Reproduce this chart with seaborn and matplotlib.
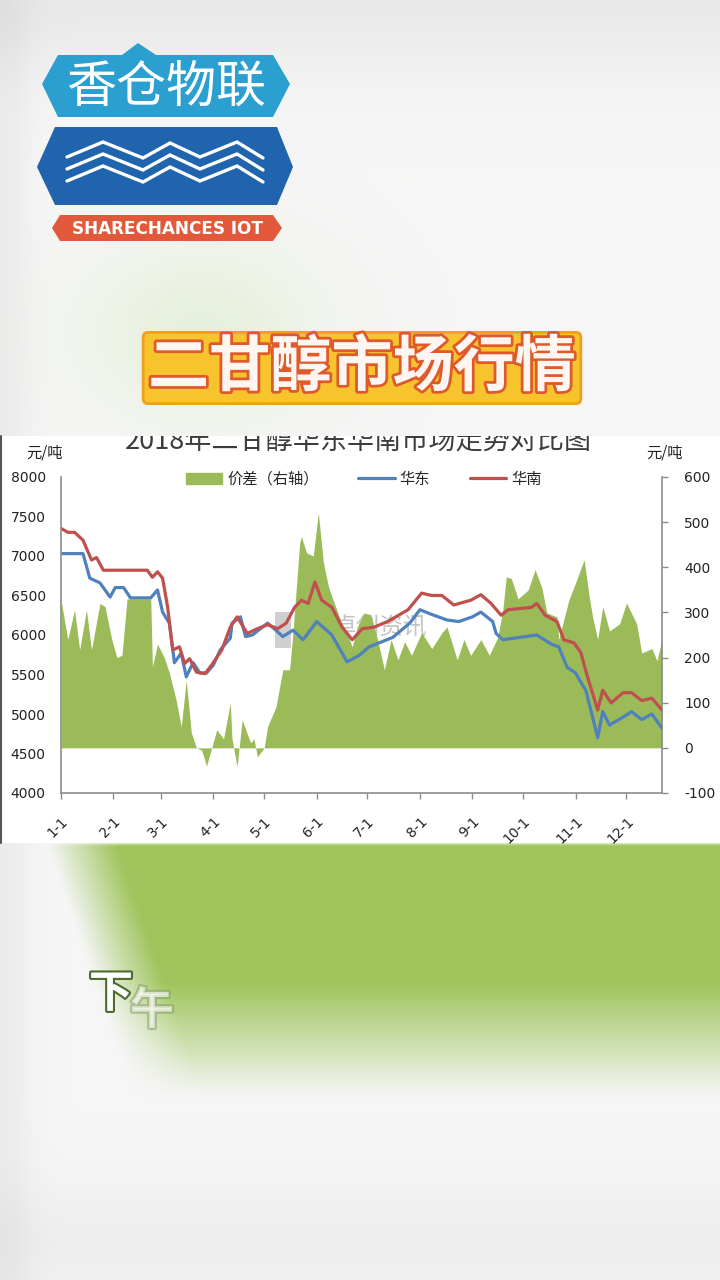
"""二甘醇市场行情：2018年华东华南走势对比图（视频截图复刻）。"""
import matplotlib

matplotlib.use("Agg")
import matplotlib.patheffects as pe
import matplotlib.pyplot as plt
import matplotlib.transforms as mtransforms
import numpy as np
import pandas as pd
import seaborn as sns
from matplotlib.lines import Line2D
from matplotlib.patches import Patch, Polygon, Rectangle

# ---- 数据 ----
east_dates = ["01-01", "01-14", "01-18", "01-24", "01-30", "02-02", "02-07", "02-11",
              "02-23", "02-27", "03-02", "03-06", "03-09", "03-13", "03-16", "03-20",
              "03-24", "03-28", "04-01", "04-05", "04-11", "04-12", "04-17", "04-20",
              "04-24", "05-03", "05-08", "05-12", "05-18", "05-24", "06-01", "06-10",
              "06-19", "06-26", "07-02", "07-16", "07-26", "08-01", "08-08", "08-17",
              "08-24", "09-01", "09-06", "09-13", "09-15", "09-19", "09-29", "10-09",
              "10-12", "10-18", "10-22", "10-27", "11-01", "11-03", "11-07", "11-11",
              "11-14", "11-17", "11-21", "11-29", "12-04", "12-10", "12-16", "12-22"]
east_price = [7030, 7030, 6720, 6660, 6480, 6600, 6600, 6470,
              6470, 6570, 6290, 6150, 5650, 5770, 5470, 5650,
              5520, 5520, 5620, 5810, 5960, 6150, 6230, 5980,
              6000, 6150, 6060, 5980, 6060, 5940, 6170, 6000,
              5660, 5740, 5850, 5970, 6150, 6320, 6260, 6190,
              6170, 6230, 6290, 6170, 6020, 5940, 5970, 6000,
              5960, 5880, 5850, 5590, 5520, 5440, 5300, 4960,
              4700, 5030, 4860, 4960, 5030, 4930, 5000, 4820]

south_dates = ["01-01", "01-05", "01-09", "01-14", "01-19", "01-22", "01-26", "02-21",
               "02-24", "02-27", "03-02", "03-05", "03-08", "03-12", "03-15", "03-18",
               "03-22", "03-27", "03-31", "04-06", "04-11", "04-15", "04-21", "04-27",
               "05-03", "05-09", "05-14", "05-19", "05-23", "05-27", "05-31", "06-04",
               "06-10", "06-16", "06-22", "06-28", "07-05", "07-13", "07-25", "08-02",
               "08-08", "08-14", "08-21", "08-31", "09-06", "09-12", "09-18", "09-22",
               "10-06", "10-09", "10-14", "10-21", "10-25", "10-31", "11-04", "11-08",
               "11-14", "11-17", "11-22", "11-29", "12-04", "12-10", "12-16", "12-22"]
south_price = [7350, 7300, 7300, 7200, 6950, 6980, 6820, 6820,
               6730, 6800, 6720, 6350, 5810, 5850, 5640, 5700,
               5530, 5510, 5620, 5810, 6100, 6230, 6020, 6080,
               6130, 6080, 6150, 6350, 6440, 6400, 6670, 6440,
               6350, 6100, 5940, 6080, 6100, 6170, 6320, 6530,
               6500, 6500, 6380, 6440, 6510, 6400, 6250, 6320,
               6350, 6400, 6250, 6170, 5940, 5900, 5780, 5470,
               5050, 5300, 5140, 5270, 5270, 5170, 5200, 5050]

spread_dates = ["01-01", "01-05", "01-09", "01-12", "01-16", "01-19", "01-24", "01-27",
                "01-31", "02-03", "02-06", "02-09", "02-23", "02-24", "02-27", "03-03",
                "03-06", "03-10", "03-13", "03-16", "03-19", "03-22", "03-25", "03-28",
                "03-31", "04-03", "04-07", "04-11", "04-12", "04-15", "04-18", "04-23",
                "04-25", "04-27", "05-01", "05-03", "05-08", "05-12", "05-16", "05-18",
                "05-22", "05-23", "05-26", "05-30", "06-02", "06-05", "06-08", "06-10",
                "06-15", "06-19", "06-22", "06-25", "06-29", "07-03", "07-07", "07-11",
                "07-15", "07-19", "07-23", "07-27", "08-02", "08-08", "08-14", "08-17",
                "08-23", "08-27", "08-31", "09-06", "09-11", "09-16", "09-19", "09-21",
                "09-24", "09-28", "10-01", "10-04", "10-08", "10-12", "10-15", "10-21",
                "10-22", "10-28", "11-01", "11-06", "11-09", "11-11", "11-14", "11-17",
                "11-21", "11-27", "12-01", "12-07", "12-10", "12-16", "12-19", "12-22"]
spread_value = [328, 240, 306, 217, 306, 217, 320, 313,
                240, 200, 205, 330, 330, 180, 230, 200,
                166, 106, 47, 150, 33, 0, -5, -40,
                0, 40, 20, 100, 20, -42, 62, 11,
                20, -20, 0, 47, 91, 173, 173, 255,
                455, 468, 432, 425, 521, 410, 357, 335,
                284, 253, 224, 268, 299, 295, 240, 173,
                240, 195, 235, 205, 255, 220, 255, 268,
                195, 240, 205, 240, 205, 245, 306, 379,
                375, 330, 340, 350, 395, 355, 299, 290,
                240, 328, 366, 417, 335, 290, 240, 313,
                259, 275, 321, 275, 210, 220, 193, 240]

month_labels = ["1-1", "2-1", "3-1", "4-1", "5-1", "6-1",
                "7-1", "8-1", "9-1", "10-1", "11-1", "12-1"]


def to_dates(days):
    return pd.to_datetime(["2018-" + d for d in days])


sns.set_theme(style="white")
plt.rcParams["font.family"] = ["DejaVu Sans", "Noto Sans CJK SC"]
plt.rcParams["axes.unicode_minus"] = False
CJK = ["Noto Sans CJK SC", "DejaVu Sans"]

GREEN = "#9bbb59"
BLUE = "#4f81bd"
RED = "#c0504d"

fig = plt.figure(figsize=(7.2, 12.8), dpi=100)

# ---- 背景（像素坐标） ----
bg = fig.add_axes([0, 0, 1, 1])
bg.set_xlim(0, 720)
bg.set_ylim(1280, 0)
bg.axis("off")

yy, xx = np.mgrid[0:1280:4, 0:720:4].astype(float)
gray = (0.965 - 0.05 * np.exp(-(yy / 70) ** 2) - 0.04 * np.exp(-(xx / 30) ** 2)
        - 0.03 * np.exp(-((yy - 1240) / 60) ** 2))
img = np.dstack([gray, gray, gray])
glow = 0.35 * np.exp(-((xx - 200) / 120) ** 2 - ((yy - 330) / 90) ** 2)
glow_rgb = np.array([0.80, 0.90, 0.68])
img = img * (1 - glow[..., None]) + glow_rgb * glow[..., None]
band = (np.clip((1095 - yy) / 115, 0, 1) * (yy >= 843)
        * np.clip((xx - 45 - 0.35 * (yy - 843)) / 70, 0, 1))
band_rgb = np.array([0.62, 0.77, 0.36])
img = img * (1 - band[..., None]) + band_rgb * band[..., None]
bg.imshow(img, extent=(0, 720, 1280, 0), interpolation="bilinear", aspect="auto", zorder=0)

# ---- 图表白底 ----
card = Rectangle((0, 436), 720, 407, fc="white", ec="none", zorder=1)
bg.add_patch(card)
bg.plot([1, 1], [436, 843], color="#555555", lw=1.5, zorder=2)
bg.text(358, 441, "2018年二甘醇华东华南市场走势对比图", ha="center", va="center",
        fontsize=19.5, color="#3c3c3c", family=CJK, zorder=1.5)
# 截图上沿把标题切掉一截：用背景盖住白底以上的部分
bg.imshow(img[:109], extent=(0, 720, 436, 0), interpolation="bilinear", aspect="auto",
          zorder=1.8)
bg.set_xlim(0, 720)
bg.set_ylim(1280, 0)
bg.text(45, 453, "元/吨", ha="center", va="center", fontsize=11, color="#222222",
        family=CJK, zorder=2)
bg.text(665, 453, "元/吨", ha="center", va="center", fontsize=11, color="#222222",
        family=CJK, zorder=2)
bg.add_patch(Rectangle((275, 612), 16, 36, fc="#cfcfcf", ec="none", zorder=1.5))
bg.text(380, 628, "卓创资讯", ha="center", va="center", fontsize=17, color="#c4c4c4",
        family=CJK, zorder=1.5)

# ---- 标志 ----
bg.add_patch(Polygon([(42, 84), (58, 55), (122, 55), (138, 43), (156, 55), (273, 55),
                      (290, 84), (273, 117), (58, 117)], fc="#2a9fd0", ec="none", zorder=2))
bg.text(166, 88, "香仓物联", ha="center", va="center", fontsize=36, color="white",
        family=CJK, weight="light", zorder=3)
bg.add_patch(Polygon([(37, 167), (55, 127), (277, 127), (293, 167), (277, 205), (55, 205)],
                     fc="#1f64ad", ec="none", zorder=2))
zig_x = [67, 103, 143, 170, 200, 237, 263]
zig_y = [157, 142, 158, 143, 157, 142, 158]
for off in (0, 12, 24):
    bg.plot(zig_x, [v + off for v in zig_y], color="white", lw=2.4, zorder=3,
            solid_joinstyle="miter")
bg.add_patch(Polygon([(52, 228), (60, 215), (273, 215), (282, 228), (273, 241), (60, 241)],
                     fc="#e2583b", ec="none", zorder=2))
bg.text(167, 229, "SHARECHANCES IOT", ha="center", va="center", fontsize=12.2,
        color="white", weight="bold", zorder=3)

# ---- 标题 ----
bg.text(362, 368, "二甘醇市场行情", ha="center", va="center", fontsize=44, weight="bold",
        color="#fff6f2", family=CJK, zorder=3,
        bbox=dict(boxstyle="round,pad=0.08", fc="#f8c42e", ec="#f0a020", lw=2),
        path_effects=[pe.Stroke(linewidth=4, foreground="#de5a2a"), pe.Normal()])

# ---- 下方文字 ----
bg.text(111, 994, "下", ha="center", va="center", fontsize=32, color="white", family=CJK,
        weight="bold", zorder=3,
        path_effects=[pe.Stroke(linewidth=3, foreground="#4d6b2c"), pe.Normal()])
bg.text(152, 1011, "午", ha="center", va="center", fontsize=32, color="white", family=CJK,
        weight="bold", alpha=0.55, zorder=3,
        path_effects=[pe.Stroke(linewidth=3, foreground="#7f9a5c", alpha=0.5), pe.Normal()])

# ---- 折线图 ----
ax = fig.add_axes([61 / 720, 1 - 793 / 1280, 601 / 720, 316 / 1280])
ax2 = ax.twinx()
ax2.fill_between(to_dates(spread_dates), 0, spread_value, color=GREEN, lw=0)
sns.lineplot(x=to_dates(east_dates), y=east_price, ax=ax, color=BLUE, lw=2.3)
sns.lineplot(x=to_dates(south_dates), y=south_price, ax=ax, color=RED, lw=2.3)
ax.set_zorder(ax2.get_zorder() + 1)
ax.patch.set_visible(False)

ax.set_xlim(pd.Timestamp("2018-01-01"), pd.Timestamp("2018-12-22"))
ax.set_ylim(4000, 8000)
ax.set_yticks(range(4000, 8001, 500))
ax2.set_ylim(-100, 600)
ax2.set_yticks(range(-100, 601, 100))
ax.set_xticks(pd.date_range("2018-01-01", periods=12, freq="MS"))
ax.set_xticklabels(month_labels, rotation=45, ha="right", rotation_mode="anchor")
shift = mtransforms.ScaledTranslation(0.06, 0, fig.dpi_scale_trans)
for lab in ax.get_xticklabels():
    lab.set_transform(lab.get_transform() + shift)
ax.set_xlabel("")
ax.set_ylabel("")

for name in ("top", "right"):
    ax.spines[name].set_visible(False)
for name in ("top", "left", "bottom"):
    ax2.spines[name].set_visible(False)
for sp in (ax.spines["left"], ax.spines["bottom"], ax2.spines["right"]):
    sp.set_color("#8c8c8c")
    sp.set_linewidth(1.2)

ax.tick_params(axis="y", length=0, pad=11, labelsize=10, labelcolor="#222222")
ax.tick_params(axis="x", length=4, width=1, color="#8c8c8c", direction="out", pad=11,
               labelsize=10, labelcolor="#222222", bottom=True)
ax2.tick_params(axis="y", length=4, width=1, color="#8c8c8c", direction="out", pad=12,
                labelsize=10, labelcolor="#222222", right=True)

handles = [Patch(color=GREEN), Line2D([], [], color=BLUE, lw=2.3),
           Line2D([], [], color=RED, lw=2.3)]
fig.legend(handles, ["价差（右轴）", "华东", "华南"], loc="center",
           bbox_to_anchor=(0.505, 1 - 479 / 1280), ncol=3, frameon=False,
           prop={"family": CJK, "size": 11}, handlelength=2.4, handletextpad=0.3,
           columnspacing=2.6)

fig.savefig("out.png", dpi=100)
